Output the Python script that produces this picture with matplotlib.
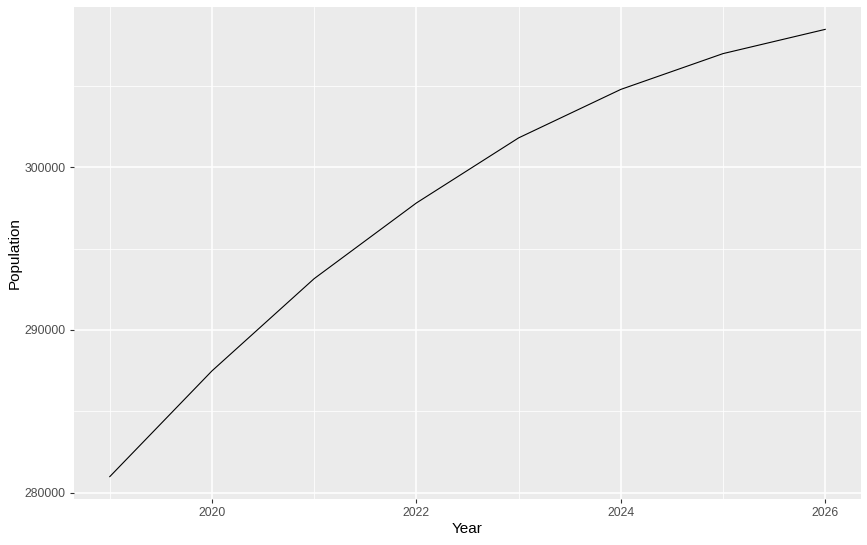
import matplotlib
matplotlib.use("Agg")
import matplotlib.pyplot as plt
from matplotlib.ticker import MultipleLocator

# population projection values
years = [2019, 2020, 2021, 2022, 2023, 2024, 2025, 2026]
population = [280980, 287480, 293150, 297800, 301800, 304780, 306980, 308470]

x_ticks = [2020, 2022, 2024, 2026]
y_ticks = [280000, 290000, 300000]

plt.rcParams['font.family'] = ['Liberation Sans', 'DejaVu Sans']

fig = plt.figure(figsize=(8.67, 5.45), dpi=100)
ax = fig.add_axes([74/867, 46/545, 787/867, 492/545])
ax.set_facecolor('#EBEBEB')

ax.plot(years, population, color='black', linewidth=0.8)

# ggplot style expansion of 5% each side
xr = max(years) - min(years)
yr = max(population) - min(population)
ax.set_xlim(min(years) - 0.05*xr, max(years) + 0.05*xr)
ax.set_ylim(min(population) - 0.05*yr, max(population) + 0.05*yr)

ax.set_xticks(x_ticks)
ax.set_yticks(y_ticks)
ax.xaxis.set_minor_locator(MultipleLocator(1))
ax.yaxis.set_minor_locator(MultipleLocator(5000))

ax.grid(which='major', color='white', linewidth=1.1)
ax.grid(which='minor', color='white', linewidth=0.55)
ax.set_axisbelow(True)
for s in ax.spines.values():
    s.set_visible(False)

ax.tick_params(which='major', length=3, width=0.8, color='#333333',
               labelcolor='#4D4D4D', labelsize=8.8, pad=3)
ax.tick_params(which='minor', length=0)

ax.set_xlabel('Year', fontsize=11, labelpad=2)
ax.set_ylabel('Population', fontsize=11, labelpad=2)

fig.savefig('out.png', dpi=100)
